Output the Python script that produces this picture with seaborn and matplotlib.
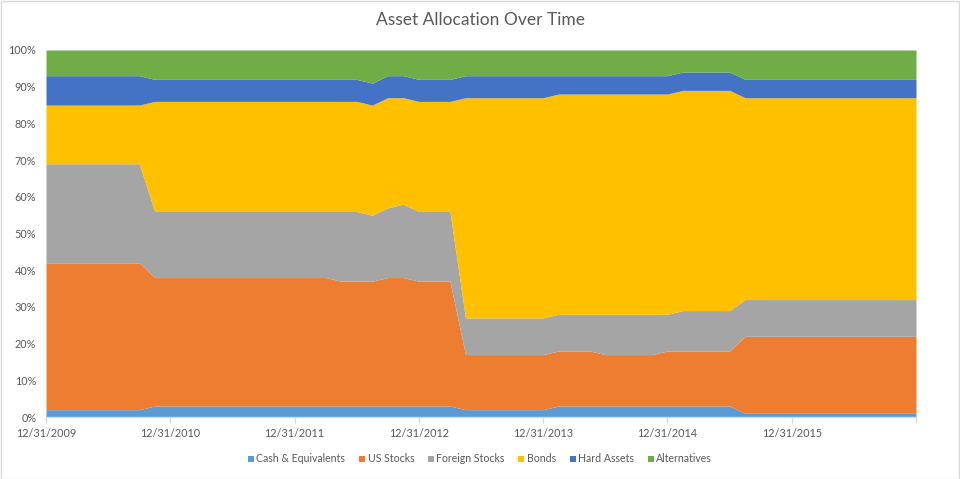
import matplotlib
matplotlib.use("Agg")
import matplotlib.pyplot as plt
import seaborn as sns
import pandas as pd
from matplotlib.patches import Rectangle

# ---- data (percent of portfolio, one value per period) ----
period = list(range(57))
tick_positions = [0, 8, 16, 24, 32, 40, 48, 56]
tick_labels = ["12/31/2009", "12/31/2010", "12/31/2011", "12/31/2012",
               "12/31/2013", "12/31/2014", "12/31/2015", ""]

cash = [2, 2, 2, 2, 2, 2, 2,
        3, 3, 3, 3, 3, 3, 3, 3, 3, 3, 3, 3, 3, 3, 3, 3, 3, 3, 3, 3,
        2, 2, 2, 2, 2, 2,
        3, 3, 3, 3, 3, 3, 3, 3, 3, 3, 3, 3,
        1, 1, 1, 1, 1, 1, 1, 1, 1, 1, 1, 1]
us_stocks = [40, 40, 40, 40, 40, 40, 40,
             35, 35, 35, 35, 35, 35, 35, 35, 35, 35, 35, 35,
             34, 34, 34, 35, 35, 34, 34, 34,
             15, 15, 15, 15, 15, 15,
             15, 15, 15, 14, 14, 14, 14, 15, 15, 15, 15, 15,
             21, 21, 21, 21, 21, 21, 21, 21, 21, 21, 21, 21]
foreign_stocks = [27, 27, 27, 27, 27, 27, 27,
                  18, 18, 18, 18, 18, 18, 18, 18, 18, 18, 18, 18,
                  19, 19, 18, 19, 20, 19, 19, 19,
                  10, 10, 10, 10, 10, 10,
                  10, 10, 10, 11, 11, 11, 11, 10, 11, 11, 11, 11,
                  10, 10, 10, 10, 10, 10, 10, 10, 10, 10, 10, 10]
bonds = [16, 16, 16, 16, 16, 16, 16,
         30, 30, 30, 30, 30, 30, 30, 30, 30, 30, 30, 30,
         30, 30, 30, 30, 29, 30, 30, 30,
         60, 60, 60, 60, 60, 60,
         60, 60, 60, 60, 60, 60, 60, 60, 60, 60, 60, 60,
         55, 55, 55, 55, 55, 55, 55, 55, 55, 55, 55, 55]
hard_assets = [8, 8, 8, 8, 8, 8, 8,
               6, 6, 6, 6, 6, 6, 6, 6, 6, 6, 6, 6,
               6, 6, 6, 6, 6, 6, 6, 6,
               6, 6, 6, 6, 6, 6,
               5, 5, 5, 5, 5, 5, 5, 5, 5, 5, 5, 5,
               5, 5, 5, 5, 5, 5, 5, 5, 5, 5, 5, 5]
alternatives = [7, 7, 7, 7, 7, 7, 7,
                8, 8, 8, 8, 8, 8, 8, 8, 8, 8, 8, 8,
                8, 8, 9, 7, 7, 8, 8, 8,
                7, 7, 7, 7, 7, 7,
                7, 7, 7, 7, 7, 7, 7, 7, 6, 6, 6, 6,
                8, 8, 8, 8, 8, 8, 8, 8, 8, 8, 8, 8]

series_names = ["Cash & Equivalents", "US Stocks", "Foreign Stocks",
                "Bonds", "Hard Assets", "Alternatives"]
colors = ["#5B9BD5", "#ED7D31", "#A5A5A5", "#FFC000", "#4472C4", "#70AD47"]

df = pd.DataFrame({
    "period": period,
    series_names[0]: cash,
    series_names[1]: us_stocks,
    series_names[2]: foreign_stocks,
    series_names[3]: bonds,
    series_names[4]: hard_assets,
    series_names[5]: alternatives,
})

sns.set_theme(style="white")
plt.rcParams["font.family"] = ["Lato", "DejaVu Sans"]
text_color = "#595959"

fig = plt.figure(figsize=(9.6, 4.79), dpi=100)
ax = fig.add_axes([46 / 960, 1 - 417 / 479, 870 / 960, 367 / 479])

palette = sns.color_palette(colors)
ax.stackplot(df["period"], [df[n] for n in series_names],
             colors=palette, labels=series_names, linewidth=0)

ax.set_xlim(0, 56)
ax.set_ylim(0, 100)
ax.set_yticks(range(0, 101, 10))
ax.set_yticklabels([f"{v}%" for v in range(0, 101, 10)])
ax.set_xticks(tick_positions)
ax.set_xticklabels(tick_labels)

for s in ["top", "right", "left"]:
    ax.spines[s].set_visible(False)
ax.spines["bottom"].set_color("#D9D9D9")
ax.spines["bottom"].set_linewidth(1)
ax.tick_params(axis="x", colors="#D9D9D9", length=4, width=1, direction="out",
               labelcolor=text_color, labelsize=7.8, pad=4, bottom=True)
ax.tick_params(axis="y", length=0, labelcolor=text_color, labelsize=7.8, pad=7)
ax.grid(False)

fig.text(0.5, 1 - 20 / 479, "Asset Allocation Over Time", ha="center",
         va="center", fontsize=12.5, color=text_color)

handles, labels = ax.get_legend_handles_labels()
leg = fig.legend(handles, labels, loc="center", bbox_to_anchor=(0.5, 1 - 459 / 479),
                 ncol=6, frameon=False, fontsize=7.6, handlelength=0.55,
                 handleheight=0.55, handletextpad=0.25, columnspacing=1.3,
                 labelcolor=text_color)

fig.patches.append(Rectangle((0.5 / 960, 0.5 / 479), 1 - 1.5 / 960, 1 - 1.5 / 479,
                             transform=fig.transFigure, fill=False,
                             edgecolor="#D9D9D9", linewidth=1))

fig.savefig("out.png", dpi=100)
